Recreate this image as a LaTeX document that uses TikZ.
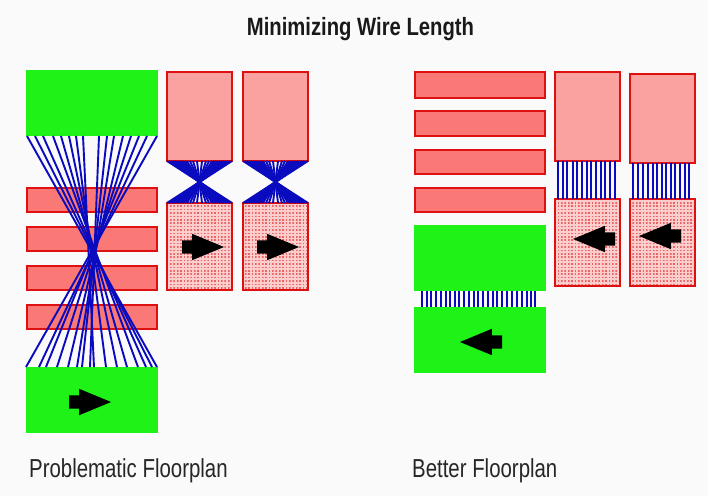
\documentclass[tikz,border=0pt]{standalone}
\usepackage{fontspec}
\setmainfont{Liberation Sans}
\usepackage{xcolor}
\usetikzlibrary{shapes.arrows, patterns, positioning, calc}

\definecolor{blockgreen}{RGB}{30,242,22}
\definecolor{blockred}{RGB}{222,16,16}
\definecolor{barfill}{RGB}{250,120,118}
\definecolor{tallfill}{RGB}{249,162,160}
\definecolor{hatchfill}{RGB}{252,205,205}
\definecolor{wireblue}{RGB}{10,10,190}
\definecolor{pagegrey}{RGB}{250,250,250}

\pgfdeclarepatternformonly{pixeldots}{\pgfqpoint{0pt}{0pt}}{\pgfqpoint{1.7pt}{1.7pt}}{\pgfqpoint{3.4pt}{3.4pt}}{
    \pgfpathrectangle{\pgfqpoint{0pt}{0pt}}{\pgfqpoint{1.7pt}{1.7pt}}
    \pgfusepath{fill}
}

\begin{document}
\begin{tikzpicture}[x=1pt, y=-1pt,
    greenbox/.style={fill=blockgreen, minimum width=132pt, minimum height=66pt, inner sep=0pt, outer sep=0pt},
    barbox/.style={draw=blockred, fill=barfill, line width=2.4pt, minimum width=130pt, inner sep=0pt, outer sep=0pt},
    tallbox/.style={draw=blockred, fill=tallfill, line width=2.4pt, minimum width=65pt, minimum height=89pt, inner sep=0pt, outer sep=0pt},
    hatchbox/.style={draw=blockred, line width=2.4pt, preaction={fill=hatchfill}, pattern=pixeldots, pattern color=blockred!65, minimum width=65pt, minimum height=87pt, inner sep=0pt, outer sep=0pt},
    wire/.style={draw=wireblue, line width=1.9pt},
    flow/.style={single arrow, fill=black, inner xsep=0pt, inner ysep=6.5pt, outer sep=0pt, minimum width=26pt, minimum height=42pt, single arrow head extend=6.5pt, single arrow tip angle=45, anchor=tail},
    title/.style={font=\fontsize{25}{28}\selectfont\bfseries, xscale=0.81, inner sep=0pt, text=black!90},
    caption/.style={font=\fontsize{26}{28}\selectfont, xscale=0.785, inner sep=0pt, text=black!85}]

    \fill[pagegrey] (0,0) rectangle (708,496);

    % Title and captions
    \node (heading) [title] at (360.5,29) {Minimizing Wire Length};
    \node (badlabel) [caption, anchor=west] at (29,471) {Problematic Floorplan};
    \node (goodlabel) [caption, anchor=west] at (412,471) {Better Floorplan};

    % Problematic floorplan
    \node (greenA) [greenbox, anchor=north west] at (26,70) {};
    \node (barA) [barbox, minimum height=24pt, below=52pt of greenA] {};
    \node (barB) [barbox, minimum height=24pt, below=15pt of barA] {};
    \node (barC) [barbox, minimum height=24pt, below=15pt of barB] {};
    \node (barD) [barbox, minimum height=24pt, below=15pt of barC] {};
    \node (greenB) [greenbox, below=38pt of barD] {};
    \node (tallA) [tallbox, anchor=north west] at (167,72) {};
    \node (tallB) [tallbox, right=11pt of tallA] {};
    \node (hatchA) [hatchbox, below=42pt of tallA] {};
    \node (hatchB) [hatchbox, below=42pt of tallB] {};

    % Better floorplan
    \node (barE) [barbox, minimum height=26pt, anchor=north west] at (415,72) {};
    \node (barF) [barbox, minimum height=25pt, below=13pt of barE] {};
    \node (barG) [barbox, minimum height=24pt, below=14pt of barF] {};
    \node (barH) [barbox, minimum height=24pt, below=14pt of barG] {};
    \node (greenC) [greenbox, below=13pt of barH] {};
    \node (greenD) [greenbox, below=16pt of greenC] {};
    \node (tallC) [tallbox, anchor=north west] at (555,72) {};
    \node (tallD) [tallbox, anchor=north west] at (630,74) {};
    \node (hatchC) [hatchbox, anchor=north west] at (555,199) {};
    \node (hatchD) [hatchbox, anchor=north west] at (630,199) {};

    % Wires
    \foreach \a/\b in {1/131, 9/126, 17/120, 27/112, 35/101, 43/91, 50/80, 57/68, 73/64, 81/56, 88/51, 97/42, 105/31, 113/20, 121/13, 131/0}
        \draw[wire] ($(greenA.south west)+(\a,0)$) -- ($(greenB.north west)+(\b,0)$);
    \foreach \u/\l in {tallA/hatchA, tallB/hatchB}
        \foreach \a/\b in {0/65, 2/63, 4/61, 6/59, 8/57, 10/55, 12/53, 14/51, 16/49, 18/47, 20/45, 23/42, 26/39, 30/35, 35/30, 39/26, 42/23, 45/20, 47/18, 49/16, 51/14, 53/12, 55/10, 57/8, 59/6, 61/4, 63/2, 65/0}
            \draw[wire] ($(\u.south west)+(\a,0)$) -- ($(\l.north west)+(\b,0)$);
    \foreach \a in {3,8,12,18,22,27,32,36,41,46,50,55,60}
        \draw[wire] ($(tallC.south west)+(\a,0)$) -- ($(hatchC.north west)+(\a,0)$);
    \foreach \a in {3,8,13,18,23,27,32,36,41,45,50,55,59}
        \draw[wire] ($(tallD.south west)+(\a,0)$) -- ($(hatchD.north west)+(\a,0)$);
    \foreach \a in {8,13,17,22,27,32,36,41,45,50,55,60,64,69,74,79,83,88,93,98,103,108,113,117,121}
        \draw[wire] ($(greenC.south west)+(\a,0)$) -- ($(greenD.north west)+(\a,0)$);

    % Flow arrows
    \node (flowA) [flow] at (182,247) {};
    \node (flowB) [flow] at (257,247) {};
    \node (flowC) [flow] at (69,402) {};
    \node (flowD) [flow, rotate=180] at (615,239) {};
    \node (flowE) [flow, rotate=180] at (681,236) {};
    \node (flowF) [flow, rotate=180] at (502,342) {};
\end{tikzpicture}
\end{document}
